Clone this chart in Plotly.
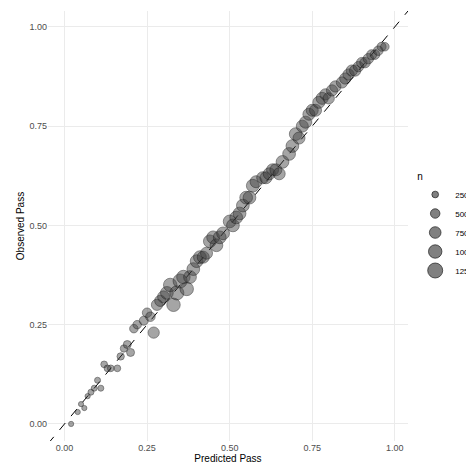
import plotly.graph_objects as go
import numpy as np

pred = [0.02,0.04,0.05,0.06,0.07,0.08,0.09,0.10,0.11,0.12,0.13,0.14,0.16,0.17,0.18,0.19,0.20,0.21,0.22,0.24,0.25,0.26,0.27,0.28,0.29,0.30,0.31,0.32,0.33,0.34,0.35,0.36,0.37,0.38,0.39,0.40,0.41,0.42,0.43,0.44,0.45,0.46,0.47,0.48,0.50,0.51,0.52,0.53,0.54,0.55,0.56,0.57,0.58,0.60,0.61,0.62,0.63,0.64,0.65,0.66,0.68,0.69,0.70,0.71,0.72,0.73,0.74,0.75,0.76,0.77,0.78,0.79,0.80,0.81,0.82,0.84,0.85,0.86,0.87,0.88,0.89,0.90,0.91,0.92,0.93,0.94,0.95,0.96,0.97]
obs = [0.00,0.03,0.05,0.04,0.07,0.08,0.09,0.11,0.09,0.15,0.14,0.14,0.14,0.17,0.19,0.20,0.18,0.24,0.25,0.26,0.28,0.27,0.23,0.30,0.31,0.32,0.33,0.35,0.30,0.33,0.36,0.37,0.34,0.37,0.39,0.41,0.42,0.42,0.43,0.46,0.47,0.45,0.47,0.48,0.51,0.50,0.52,0.53,0.55,0.57,0.57,0.60,0.61,0.62,0.62,0.63,0.64,0.64,0.63,0.66,0.68,0.70,0.73,0.72,0.75,0.76,0.78,0.79,0.79,0.81,0.82,0.83,0.82,0.84,0.85,0.86,0.87,0.88,0.89,0.89,0.90,0.91,0.91,0.92,0.93,0.93,0.94,0.95,0.95]
n = [150,150,150,150,150,200,200,200,200,250,250,250,250,300,300,350,350,400,400,450,500,500,700,700,700,800,900,1000,1000,1100,1100,1000,1000,900,900,900,900,800,800,900,900,900,900,900,900,900,900,900,900,900,900,900,800,800,800,800,800,800,800,900,900,900,900,800,800,800,800,800,800,800,800,700,700,700,700,700,700,700,700,700,600,600,600,600,550,500,500,450,400]
legend_n = [250,500,750,1000,1250]

def diam(v):
    return 15*np.sqrt(np.array(v)/1250)

fill = "rgba(60,60,60,0.65)"
line = dict(color="rgba(25,25,25,0.85)", width=0.8)

fig = go.Figure()
fig.add_trace(go.Scatter(x=[-0.05,1.05], y=[-0.05,1.05], mode="lines",
    line=dict(color="black", dash="dash", width=1), showlegend=False, hoverinfo="skip"))
fig.add_trace(go.Scatter(x=pred, y=obs, mode="markers",
    marker=dict(size=diam(n), color=fill, line=line), showlegend=False))
for v in legend_n:
    fig.add_trace(go.Scatter(x=[None], y=[None], mode="markers", name=str(v),
        marker=dict(size=float(diam([v])[0]), color=fill, line=line)))

fig.update_layout(
    width=474, height=474, plot_bgcolor="white", paper_bgcolor="white",
    margin=dict(l=40, r=66, t=3, b=41),
    font=dict(family="Liberation Sans, Arial", size=9, color="#4d4d4d"),
    legend=dict(title=dict(text="n", font=dict(size=10, color="black")), x=1.02, y=0.5,
                yanchor="middle", xanchor="left", itemsizing="trace", font=dict(size=8, color="black")),
    xaxis=dict(range=[-0.05,1.04], tickvals=[0,0.25,0.5,0.75,1.0], automargin=False,
               ticktext=["0.00","0.25","0.50","0.75","1.00"], gridcolor="#ebebeb",
               zeroline=False, showline=False, ticks="",
               title=dict(text="Predicted Pass", font=dict(size=10, color="black"), standoff=2)),
    yaxis=dict(range=[-0.043,1.04], tickvals=[0,0.25,0.5,0.75,1.0], automargin=False,
               ticktext=["0.00","0.25","0.50","0.75","1.00"], gridcolor="#ebebeb",
               zeroline=False, showline=False, ticks="",
               title=dict(text="Observed Pass", font=dict(size=10, color="black"), standoff=2)),
)
fig.write_html("out.html")
